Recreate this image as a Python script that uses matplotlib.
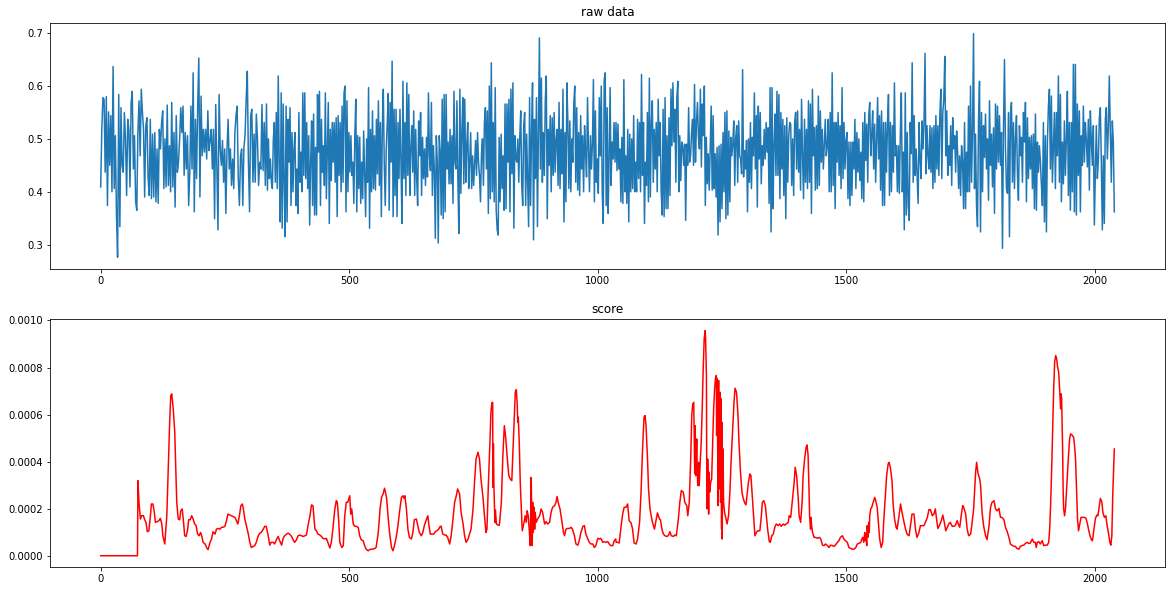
import numpy as np
import matplotlib
matplotlib.use("Agg")
import matplotlib.pyplot as plt

# ---------------- raw data (in 6 consecutive pieces) ----------------
raw_seg_bounds = [0, 333.5, 685, 1036.6, 1388, 1739.7, 2039]

raw_seg1 = [0.409, 0.518, 0.578, 0.575, 0.437, 0.580, 0.374, 0.551, 0.450, 0.544, 0.400, 0.637, 0.406, 0.506,
            0.356, 0.276, 0.584, 0.334, 0.559, 0.450, 0.437, 0.550, 0.500, 0.393, 0.537, 0.518, 0.409, 0.569,
            0.590, 0.443, 0.506, 0.381, 0.365, 0.512, 0.572, 0.468, 0.594, 0.550, 0.518, 0.390, 0.525, 0.540,
            0.428, 0.393, 0.537, 0.387, 0.509, 0.390, 0.512, 0.381, 0.481, 0.378, 0.518, 0.481, 0.531, 0.553,
            0.406, 0.500, 0.409, 0.564, 0.412, 0.487, 0.400, 0.569, 0.409, 0.512, 0.371, 0.544, 0.437, 0.456,
            0.500, 0.559, 0.512, 0.562, 0.431, 0.512, 0.443, 0.506, 0.374, 0.437, 0.562, 0.443, 0.625, 0.362,
            0.537, 0.425, 0.562, 0.653, 0.390, 0.581, 0.468, 0.518, 0.475, 0.518, 0.462, 0.553, 0.478, 0.497,
            0.518, 0.443, 0.518, 0.349, 0.565, 0.443, 0.328, 0.584, 0.481, 0.450, 0.497, 0.418, 0.481, 0.359,
            0.481, 0.537, 0.443, 0.481, 0.412, 0.462, 0.406, 0.512, 0.544, 0.562, 0.425, 0.374, 0.468, 0.481,
            0.374, 0.484, 0.506, 0.575, 0.628, 0.456, 0.362, 0.544, 0.556, 0.418, 0.509, 0.418, 0.547, 0.500,
            0.412, 0.456, 0.443, 0.565, 0.440, 0.531, 0.412]

raw_seg2 = [0.566, 0.403, 0.500, 0.425, 0.462, 0.418, 0.406, 0.500, 0.531, 0.418, 0.550, 0.406, 0.619, 0.456,
            0.343, 0.587, 0.331, 0.566, 0.418, 0.315, 0.562, 0.343, 0.537, 0.456, 0.559, 0.374, 0.512, 0.400,
            0.481, 0.512, 0.374, 0.443, 0.359, 0.550, 0.418, 0.475, 0.400, 0.587, 0.431, 0.587, 0.425, 0.531,
            0.406, 0.506, 0.337, 0.456, 0.534, 0.374, 0.547, 0.356, 0.484, 0.356, 0.584, 0.475, 0.590, 0.374,
            0.537, 0.437, 0.487, 0.412, 0.587, 0.387, 0.481, 0.569, 0.340, 0.518, 0.421, 0.531, 0.456, 0.531,
            0.418, 0.540, 0.353, 0.544, 0.431, 0.531, 0.400, 0.562, 0.418, 0.587, 0.600, 0.362, 0.572, 0.400,
            0.512, 0.437, 0.506, 0.431, 0.456, 0.378, 0.506, 0.575, 0.362, 0.506, 0.406, 0.503, 0.378, 0.456,
            0.387, 0.515, 0.437, 0.353, 0.500, 0.418, 0.597, 0.331, 0.518, 0.400, 0.553, 0.406, 0.506, 0.403,
            0.537, 0.434, 0.572, 0.412, 0.531, 0.353, 0.518, 0.594, 0.450, 0.374, 0.481, 0.528, 0.586, 0.365,
            0.569, 0.456, 0.647, 0.353, 0.556, 0.393, 0.556, 0.353, 0.531, 0.425, 0.556, 0.456, 0.340, 0.609,
            0.425, 0.531, 0.393, 0.606, 0.431, 0.584, 0.393, 0.481, 0.525, 0.437, 0.553, 0.393, 0.518, 0.425,
            0.374, 0.534, 0.468, 0.550, 0.393, 0.503, 0.425, 0.481, 0.412, 0.503, 0.428, 0.587, 0.468, 0.440,
            0.569, 0.393, 0.487, 0.443, 0.312, 0.506, 0.456, 0.303, 0.506, 0.475]

raw_seg3 = [0.356, 0.575, 0.349, 0.584, 0.362, 0.584, 0.443, 0.494, 0.415, 0.518, 0.415, 0.506, 0.378, 0.590,
            0.456, 0.443, 0.572, 0.418, 0.321, 0.594, 0.397, 0.512, 0.578, 0.415, 0.575, 0.418, 0.487, 0.531,
            0.406, 0.456, 0.512, 0.406, 0.468, 0.412, 0.450, 0.497, 0.431, 0.512, 0.456, 0.431, 0.381, 0.472,
            0.500, 0.412, 0.531, 0.559, 0.443, 0.553, 0.359, 0.600, 0.387, 0.644, 0.400, 0.531, 0.381, 0.597,
            0.365, 0.328, 0.318, 0.503, 0.381, 0.509, 0.406, 0.468, 0.365, 0.566, 0.368, 0.566, 0.456, 0.575,
            0.362, 0.594, 0.434, 0.606, 0.331, 0.506, 0.462, 0.456, 0.500, 0.418, 0.503, 0.553, 0.412, 0.374,
            0.525, 0.550, 0.374, 0.509, 0.425, 0.334, 0.578, 0.374, 0.512, 0.606, 0.309, 0.537, 0.425, 0.578,
            0.334, 0.518, 0.691, 0.443, 0.615, 0.418, 0.512, 0.431, 0.575, 0.619, 0.349, 0.518, 0.450, 0.544,
            0.400, 0.540, 0.431, 0.550, 0.437, 0.497, 0.518, 0.412, 0.569, 0.406, 0.518, 0.434, 0.594, 0.343,
            0.512, 0.381, 0.606, 0.531, 0.406, 0.534, 0.400, 0.500, 0.456, 0.566, 0.600, 0.418, 0.559, 0.403,
            0.512, 0.393, 0.544, 0.443, 0.506, 0.400, 0.525, 0.472, 0.428, 0.578, 0.481, 0.400, 0.506, 0.443,
            0.490, 0.612, 0.381, 0.553, 0.418, 0.462, 0.397, 0.578, 0.468, 0.600, 0.397, 0.340, 0.612, 0.625,
            0.374, 0.559, 0.359, 0.462, 0.597, 0.412, 0.494, 0.462, 0.531, 0.456]

raw_seg4 = [0.531, 0.440, 0.528, 0.443, 0.481, 0.381, 0.503, 0.378, 0.612, 0.400, 0.468, 0.378, 0.518, 0.343,
            0.509, 0.400, 0.500, 0.406, 0.544, 0.400, 0.456, 0.400, 0.537, 0.425, 0.531, 0.400, 0.622, 0.431,
            0.531, 0.340, 0.456, 0.412, 0.550, 0.381, 0.615, 0.390, 0.531, 0.572, 0.418, 0.518, 0.443, 0.531,
            0.400, 0.575, 0.468, 0.531, 0.403, 0.356, 0.556, 0.353, 0.578, 0.368, 0.506, 0.368, 0.540, 0.393,
            0.594, 0.487, 0.606, 0.494, 0.556, 0.418, 0.578, 0.609, 0.400, 0.506, 0.421, 0.494, 0.487, 0.450,
            0.490, 0.346, 0.490, 0.450, 0.559, 0.456, 0.468, 0.512, 0.537, 0.450, 0.603, 0.456, 0.531, 0.569,
            0.503, 0.481, 0.594, 0.447, 0.566, 0.506, 0.600, 0.374, 0.503, 0.415, 0.472, 0.403, 0.487, 0.562,
            0.403, 0.544, 0.406, 0.472, 0.390, 0.484, 0.318, 0.487, 0.343, 0.490, 0.368, 0.512, 0.400, 0.550,
            0.349, 0.553, 0.356, 0.515, 0.381, 0.503, 0.468, 0.490, 0.534, 0.412, 0.503, 0.525, 0.418, 0.534,
            0.468, 0.462, 0.434, 0.631, 0.428, 0.478, 0.443, 0.497, 0.362, 0.500, 0.418, 0.531, 0.406, 0.503,
            0.468, 0.587, 0.443, 0.544, 0.371, 0.562, 0.462, 0.550, 0.415, 0.487, 0.450, 0.518, 0.462, 0.531,
            0.475, 0.521, 0.378, 0.597, 0.324, 0.597, 0.368, 0.487, 0.547, 0.431, 0.590, 0.431, 0.584, 0.387,
            0.550, 0.443, 0.537, 0.393, 0.525, 0.349, 0.540, 0.418, 0.506, 0.531]

raw_seg5 = [0.528, 0.412, 0.500, 0.393, 0.531, 0.550, 0.443, 0.553, 0.437, 0.518, 0.403, 0.575, 0.468, 0.387,
            0.537, 0.418, 0.518, 0.406, 0.572, 0.418, 0.566, 0.359, 0.594, 0.468, 0.521, 0.403, 0.525, 0.406,
            0.581, 0.412, 0.553, 0.456, 0.518, 0.443, 0.487, 0.537, 0.468, 0.487, 0.537, 0.400, 0.550, 0.400,
            0.625, 0.412, 0.531, 0.368, 0.531, 0.456, 0.550, 0.431, 0.525, 0.406, 0.597, 0.425, 0.531, 0.443,
            0.497, 0.512, 0.387, 0.494, 0.374, 0.494, 0.393, 0.494, 0.443, 0.537, 0.406, 0.512, 0.437, 0.500,
            0.421, 0.475, 0.387, 0.531, 0.381, 0.550, 0.459, 0.528, 0.418, 0.544, 0.569, 0.468, 0.506, 0.553,
            0.443, 0.528, 0.418, 0.500, 0.578, 0.462, 0.544, 0.403, 0.553, 0.374, 0.531, 0.374, 0.531, 0.437,
            0.531, 0.584, 0.393, 0.531, 0.400, 0.525, 0.437, 0.606, 0.468, 0.487, 0.400, 0.487, 0.397, 0.512,
            0.587, 0.400, 0.475, 0.328, 0.587, 0.356, 0.512, 0.374, 0.346, 0.531, 0.472, 0.644, 0.418, 0.544,
            0.431, 0.481, 0.431, 0.378, 0.531, 0.462, 0.425, 0.534, 0.481, 0.534, 0.662, 0.434, 0.525, 0.468,
            0.443, 0.525, 0.437, 0.521, 0.406, 0.525, 0.418, 0.544, 0.443, 0.525, 0.431, 0.544, 0.594, 0.425,
            0.550, 0.575, 0.656, 0.468, 0.553, 0.431, 0.487, 0.450, 0.525, 0.412, 0.540, 0.481, 0.506, 0.437,
            0.515, 0.475, 0.406, 0.468, 0.393, 0.487, 0.456, 0.368, 0.531]

raw_seg6 = [0.368, 0.475, 0.400, 0.562, 0.400, 0.600, 0.418, 0.512, 0.699, 0.406, 0.509, 0.374, 0.334, 0.534,
            0.609, 0.324, 0.550, 0.400, 0.525, 0.465, 0.547, 0.443, 0.500, 0.384, 0.572, 0.450, 0.509, 0.409,
            0.521, 0.359, 0.566, 0.443, 0.562, 0.456, 0.544, 0.450, 0.512, 0.293, 0.518, 0.650, 0.481, 0.406,
            0.397, 0.550, 0.315, 0.547, 0.569, 0.418, 0.531, 0.406, 0.500, 0.544, 0.431, 0.384, 0.525, 0.468,
            0.503, 0.418, 0.550, 0.494, 0.569, 0.381, 0.540, 0.425, 0.503, 0.443, 0.506, 0.406, 0.509, 0.368,
            0.547, 0.365, 0.494, 0.437, 0.487, 0.456, 0.412, 0.374, 0.531, 0.343, 0.506, 0.324, 0.494, 0.562,
            0.594, 0.443, 0.581, 0.418, 0.487, 0.550, 0.406, 0.550, 0.468, 0.619, 0.418, 0.584, 0.381, 0.494,
            0.415, 0.534, 0.431, 0.500, 0.590, 0.393, 0.531, 0.365, 0.531, 0.400, 0.641, 0.362, 0.641, 0.356,
            0.566, 0.431, 0.553, 0.362, 0.506, 0.450, 0.562, 0.456, 0.531, 0.497, 0.447, 0.537, 0.403, 0.553,
            0.494, 0.450, 0.525, 0.337, 0.437, 0.525, 0.425, 0.459, 0.540, 0.559, 0.456, 0.328, 0.468, 0.340,
            0.537, 0.559, 0.462, 0.521, 0.619, 0.512, 0.418, 0.534, 0.494, 0.362]

raw_segments = [raw_seg1, raw_seg2, raw_seg3, raw_seg4, raw_seg5, raw_seg6]

# ---------------- score (sample index, value in units of 1e-4) ----------------
score_t = [0, 74, 75, 77, 80, 82, 86, 88, 91, 94, 97, 100, 102, 105, 108, 110, 114, 117, 120, 123, 125, 129,
           133, 136, 139, 141, 143, 146, 149, 151, 153, 156, 159, 161, 164, 167, 169, 172, 175, 177, 180, 183,
           186, 189, 192, 195, 198, 201, 204, 206, 210, 213, 216, 220, 223, 226, 230, 233, 236, 240, 243, 246,
           250, 253, 256, 260, 263, 266, 270, 273, 276, 279, 282, 285, 287, 290, 293, 297, 300, 303, 307, 310,
           313, 317, 320, 323, 327, 330,
           333, 337, 340, 343, 347, 350, 354, 357, 360, 364, 367, 370, 374, 377, 380, 384, 387, 390, 394, 397,
           400, 404, 407, 411, 414, 417, 421, 424, 427, 431, 434, 437, 441, 444, 447, 451, 454, 457, 461, 464,
           467, 471, 474, 476, 479, 481, 485, 488, 491, 494, 497, 499, 501, 503, 505, 508, 511, 514, 518, 521,
           524, 528, 531, 534, 538, 541, 544, 548, 551, 554, 558, 560, 562, 565, 568, 571, 575, 578, 581, 585,
           588, 591, 595, 598, 601, 605, 608, 610, 612, 615, 618, 621, 625, 628, 631, 635, 638, 641, 645, 648,
           651, 655, 658, 660, 663, 666, 670, 673, 676, 680, 683,
           685, 688, 692, 695, 698, 702, 705, 708, 712, 715, 718, 722, 725, 729, 732, 735, 739, 742, 745, 749,
           752, 755, 759, 762, 765, 769, 772, 775, 777, 780, 783, 785, 787, 788.5, 789, 790, 791, 793, 794, 796,
           799, 802, 806, 809, 812, 815, 818, 821, 824, 827, 829, 832, 834, 836, 838, 839, 840, 842, 844, 846,
           848, 851, 854, 856, 858, 860, 862, 864, 865, 866, 868, 869, 870, 872, 873, 874, 876, 879, 883, 886,
           889, 893, 896, 899, 903, 906, 909, 913, 916, 918, 921, 924, 927, 931, 933, 936, 939, 943, 946, 949,
           953, 956, 960, 963, 966, 970, 973, 976, 980, 983, 986, 990, 993, 996, 1000, 1003, 1006, 1010, 1013,
           1016, 1020, 1023, 1026, 1030, 1033, 1036,
           1037, 1040, 1043, 1047, 1050, 1053, 1057, 1060, 1063, 1067, 1070, 1073, 1077, 1080, 1084, 1087, 1090,
           1093, 1095, 1097, 1100, 1102, 1105, 1108, 1110, 1114, 1117, 1120, 1124, 1126, 1129, 1132, 1135, 1138,
           1142, 1145, 1148, 1152, 1155, 1158, 1162, 1165, 1168, 1172, 1175, 1179, 1181, 1184, 1187, 1189, 1191,
           1193, 1195, 1196, 1197, 1199, 1200, 1201, 1203, 1204, 1206, 1208, 1210, 1212, 1214, 1216, 1217,
           1218.5, 1219, 1220, 1221, 1223, 1224, 1225, 1227, 1229, 1231, 1233, 1235, 1237, 1238.5, 1239, 1240,
           1242, 1243, 1244, 1246, 1247, 1248, 1249, 1249.5, 1250, 1252, 1253, 1255, 1258, 1260, 1263, 1266,
           1268, 1271, 1274, 1276, 1279, 1282, 1284, 1287, 1290, 1292, 1295, 1298, 1300, 1303, 1306, 1308,
           1311, 1314, 1316, 1319, 1322, 1326, 1329, 1331, 1334, 1337, 1339, 1342, 1345, 1347, 1350, 1353,
           1356, 1359, 1363, 1366, 1369, 1373, 1376, 1379, 1383, 1385,
           1388, 1391, 1395, 1397, 1400, 1403, 1405, 1408, 1411, 1413, 1416, 1419, 1421, 1423, 1425, 1426,
           1428, 1429, 1430, 1432, 1435, 1438, 1442, 1445, 1448, 1452, 1455, 1458, 1462, 1465, 1468, 1472,
           1475, 1478, 1482, 1485, 1488, 1492, 1495, 1498, 1502, 1505, 1509, 1512, 1515, 1519, 1522, 1525,
           1529, 1531, 1533, 1535, 1537, 1538, 1539, 1541, 1542, 1543, 1545, 1546, 1547, 1549, 1551, 1554,
           1557, 1559, 1562, 1565, 1567, 1570, 1573, 1575, 1578, 1581, 1584, 1586, 1589, 1592, 1594, 1597,
           1600, 1602, 1606, 1609, 1612, 1616, 1619, 1622, 1626, 1629, 1632, 1636, 1639, 1642, 1646, 1649,
           1652, 1656, 1659, 1663, 1666, 1669, 1673, 1676, 1679, 1681, 1684, 1687, 1691, 1694, 1697, 1700,
           1703, 1706, 1709, 1713, 1716, 1719, 1723, 1725, 1728, 1731, 1734, 1736,
           1740, 1743, 1746, 1750, 1753, 1756, 1760, 1762, 1765, 1768, 1770, 1773, 1776, 1780, 1783, 1787,
           1790, 1793, 1797, 1800, 1803, 1807, 1810, 1813, 1817, 1820, 1823, 1827, 1830, 1833, 1837, 1840,
           1843, 1847, 1850, 1853, 1857, 1860, 1864, 1867, 1870, 1874, 1877, 1880, 1882, 1884, 1887, 1890,
           1894, 1897, 1900, 1904, 1907, 1909, 1911, 1913, 1915, 1917, 1919, 1921, 1923, 1925, 1927, 1929,
           1931, 1932, 1933, 1935, 1936, 1937, 1939, 1941, 1943, 1946, 1949, 1951, 1954, 1957, 1959, 1961,
           1963, 1965, 1967, 1969, 1972, 1975, 1979, 1982, 1985, 1987, 1990, 1993, 1995, 1998, 2001, 2004,
           2006, 2009, 2011, 2014, 2016, 2019, 2022, 2024, 2027, 2030, 2032, 2034, 2036, 2039]

score_e4 = [0.0, 0.0, 3.19, 2.27, 1.56, 1.70, 1.70, 1.56, 1.42, 1.02, 1.06, 1.70, 2.20, 2.20, 1.84, 1.42, 1.45,
            1.49, 1.59, 1.35, 0.85, 0.50, 1.70, 3.83, 5.82, 6.81, 6.88, 6.24, 5.25, 3.83, 2.27, 1.56, 1.53, 1.91,
            1.99, 1.35, 0.85, 0.82, 1.13, 1.53, 1.53, 1.70, 1.56, 1.35, 1.28, 0.92, 0.85, 0.99, 0.78, 0.57, 0.50,
            0.35, 0.26, 0.57, 0.71, 1.02, 0.92, 1.13, 1.16, 1.13, 1.21, 1.21, 1.25, 1.49, 1.77, 1.73, 1.70, 1.67,
            1.63, 1.49, 1.35, 1.70, 2.13, 2.20, 1.99, 1.56, 1.28, 0.92, 0.57, 0.35, 0.40, 0.43, 0.57, 0.85, 0.96,
            0.99, 1.13, 1.25,
            1.25, 0.85, 0.45, 0.57, 0.57, 0.50, 0.71, 0.82, 0.64, 0.45, 0.74, 0.85, 0.92, 0.96, 0.92, 0.82, 0.68,
            0.57, 0.68, 0.85, 0.88, 0.85, 0.82, 0.85, 0.89, 1.28, 1.70, 2.16, 2.13, 1.13, 1.06, 0.92, 0.88, 0.82,
            0.74, 0.71, 0.74, 0.57, 0.33, 0.57, 1.13, 1.99, 2.34, 2.27, 1.42, 0.57, 0.35, 0.43, 1.70, 2.27, 2.27,
            2.41, 2.55, 1.77, 1.99, 1.35, 1.25, 1.25, 1.21, 0.85, 0.68, 0.64, 0.43, 0.28, 0.21, 0.26, 0.28, 0.28,
            0.31, 0.35, 0.92, 1.42, 1.99, 2.48, 2.62, 2.87, 2.48, 1.70, 0.99, 0.35, 0.21, 0.43, 0.85, 1.28, 1.84,
            2.48, 2.55, 2.44, 2.55, 1.99, 1.13, 0.78, 0.71, 0.99, 1.53, 1.56, 1.28, 0.99, 0.85, 0.99, 1.28, 1.53,
            1.70, 1.35, 0.92, 0.92, 0.92, 1.02, 1.06, 1.13, 1.25,
            1.25, 0.92, 0.88, 0.88, 0.78, 0.50, 0.85, 1.42, 2.27, 2.52, 2.84, 2.62, 1.84, 1.35, 0.85, 0.57, 0.71,
            0.92, 1.13, 1.99, 3.12, 4.11, 4.40, 4.11, 3.26, 2.48, 1.70, 0.99, 1.13, 3.12, 4.82, 6.10, 6.50, 6.52,
            2.91, 4.75, 2.98, 1.42, 1.94, 1.35, 1.30, 1.30, 2.27, 4.26, 5.53, 4.96, 4.11, 3.40, 3.26, 3.19, 4.26,
            5.96, 6.95, 7.06, 6.38, 5.67, 5.89, 4.82, 3.12, 2.13, 1.06, 1.35, 1.70, 1.42, 1.91, 1.70, 1.13, 0.43,
            1.70, 3.33, 0.43, 2.27, 0.99, 2.06, 1.13, 1.84, 1.42, 1.56, 1.70, 1.99, 1.84, 1.35, 1.45, 1.35, 1.42,
            1.84, 2.06, 2.13, 2.27, 2.52, 2.20, 1.99, 1.56, 0.99, 0.85, 1.13, 1.16, 1.16, 1.21, 1.13, 0.85, 0.50,
            0.45, 0.68, 0.99, 1.25, 1.28, 0.92, 0.71, 0.57, 0.50, 0.50, 0.35, 0.43, 0.74, 0.71, 0.74, 0.57, 0.60,
            0.57, 0.60, 0.50, 0.43, 0.43, 0.64, 0.71,
            0.57, 0.57, 0.54, 1.28, 1.77, 2.06, 2.06, 2.20, 1.49, 1.39, 1.13, 0.54, 0.50, 0.71, 1.42, 2.70, 4.54,
            5.89, 5.96, 5.53, 4.11, 2.84, 1.99, 1.63, 1.42, 1.13, 1.49, 1.82, 1.56, 1.53, 1.13, 0.92, 0.85, 0.82,
            0.85, 1.02, 0.85, 0.82, 0.88, 0.85, 1.56, 2.27, 2.77, 2.70, 2.27, 2.13, 1.70, 2.27, 4.26, 5.96, 6.45,
            6.52, 3.48, 5.53, 3.40, 4.96, 3.69, 2.98, 3.97, 2.98, 3.97, 4.82, 6.24, 7.94, 9.22, 9.57, 9.08,
            7.66, 4.26, 1.99, 4.11, 1.77, 3.55, 2.70, 3.12, 3.26, 4.68, 6.24, 7.09, 7.59, 7.66, 5.11, 7.52,
            2.13, 7.45, 2.84, 6.95, 2.27, 6.67, 1.13, 5.67, 0.71, 4.54, 2.27, 1.84, 1.56, 1.35, 1.70, 2.84,
            3.97, 5.25, 6.52, 7.12, 6.95, 5.96, 4.82, 3.55, 2.70, 2.48, 2.27, 2.16, 2.55, 3.12, 3.48, 3.40,
            2.41, 1.49, 0.85, 0.99, 1.06, 1.06, 1.70, 2.27, 2.34, 2.13, 1.70, 1.06, 0.60, 0.57, 0.85, 0.92,
            1.21, 1.35, 1.28, 1.35, 1.25, 1.35, 1.30, 1.35, 1.42, 1.70,
            1.63, 2.27, 3.12, 3.76, 3.40, 2.48, 1.70, 1.42, 2.27, 3.40, 4.11, 4.61, 4.71, 4.26, 2.70, 1.70,
            1.13, 1.63, 1.28, 0.99, 0.78, 0.78, 0.74, 0.78, 0.74, 0.45, 0.43, 0.50, 0.43, 0.35, 0.45, 0.43,
            0.40, 0.45, 0.57, 0.64, 0.78, 0.85, 0.71, 0.64, 0.57, 0.35, 0.31, 0.28, 0.28, 0.35, 0.50, 0.52,
            0.57, 0.71, 0.78, 0.57, 0.99, 0.64, 0.92, 0.43, 1.28, 0.78, 1.42, 0.99, 1.70, 1.99, 2.06, 2.27,
            2.48, 2.34, 2.06, 1.28, 0.71, 0.35, 0.57, 1.42, 2.41, 3.40, 3.90, 3.97, 3.69, 3.12, 2.20, 1.56,
            1.21, 1.13, 1.70, 2.20, 1.84, 1.42, 1.13, 0.92, 0.85, 1.28, 1.77, 1.77, 1.13, 0.78, 0.99, 1.28,
            1.28, 1.28, 1.42, 1.63, 1.96, 1.96, 1.70, 1.77, 1.99, 1.63, 1.16, 1.28, 1.49, 1.73, 1.42, 1.06,
            1.21, 1.35, 1.42, 1.25, 1.25, 1.28, 1.49, 1.35, 1.21, 1.70, 2.13, 2.06,
            1.77, 1.13, 0.85, 0.92, 1.42, 1.99, 3.55, 3.97, 3.48, 3.29, 2.98, 1.84, 1.28, 0.85, 0.68, 1.28,
            2.06, 2.27, 2.34, 1.99, 1.91, 2.01, 1.63, 1.63, 1.53, 1.21, 1.06, 0.78, 0.50, 0.45, 0.40, 0.40,
            0.31, 0.28, 0.40, 0.43, 0.45, 0.52, 0.57, 0.52, 0.54, 0.71, 0.57, 0.57, 0.35, 0.57, 0.60, 0.50,
            0.64, 0.43, 0.45, 0.45, 0.57, 1.13, 2.27, 3.69, 5.39, 7.09, 8.23, 8.51, 8.37, 8.01, 7.80, 7.09,
            6.24, 6.88, 6.67, 4.54, 2.84, 1.99, 1.70, 2.06, 2.84, 3.97, 4.96, 5.18, 5.13, 5.04, 4.68, 4.11,
            2.84, 1.56, 1.06, 1.28, 1.63, 1.63, 1.63, 1.59, 1.35, 1.13, 0.85, 0.68, 0.64, 1.13, 1.59, 1.73,
            1.70, 2.13, 2.44, 2.27, 1.84, 1.63, 1.70, 1.35, 0.99, 0.57, 0.45, 0.85, 2.70, 4.54]

# ---------------- build series ----------------
raw_t, raw_v = [], []
n_seg = len(raw_segments)
for k, seg in enumerate(raw_segments):
    t = np.linspace(raw_seg_bounds[k], raw_seg_bounds[k + 1], len(seg), endpoint=(k == n_seg - 1))
    raw_t.extend(t)
    raw_v.extend(seg)
raw_t = np.array(raw_t)
raw_v = np.array(raw_v)

score_x = np.array(score_t, dtype=float)
score_y = np.array(score_e4) * 1e-4

# ---------------- figure ----------------
W, H, DPI = 1172, 590, 72
fig = plt.figure(figsize=(W / DPI, H / DPI), dpi=DPI)

ax1 = fig.add_axes([50 / W, 1 - 268.5 / H, 1115 / W, 246 / H])
ax2 = fig.add_axes([50 / W, 1 - 567 / H, 1115 / W, 247.7 / H])

ax1.plot(raw_t, raw_v, color='#1f77b4', lw=1.5)
ax1.set_title('raw data')

ax2.plot(score_x, score_y, color='red', lw=1.5)
ax2.set_title('score')

for ax in (ax1, ax2):
    ax.set_xticks([0, 500, 1000, 1500, 2000])

fig.savefig('out.png', dpi=DPI)
